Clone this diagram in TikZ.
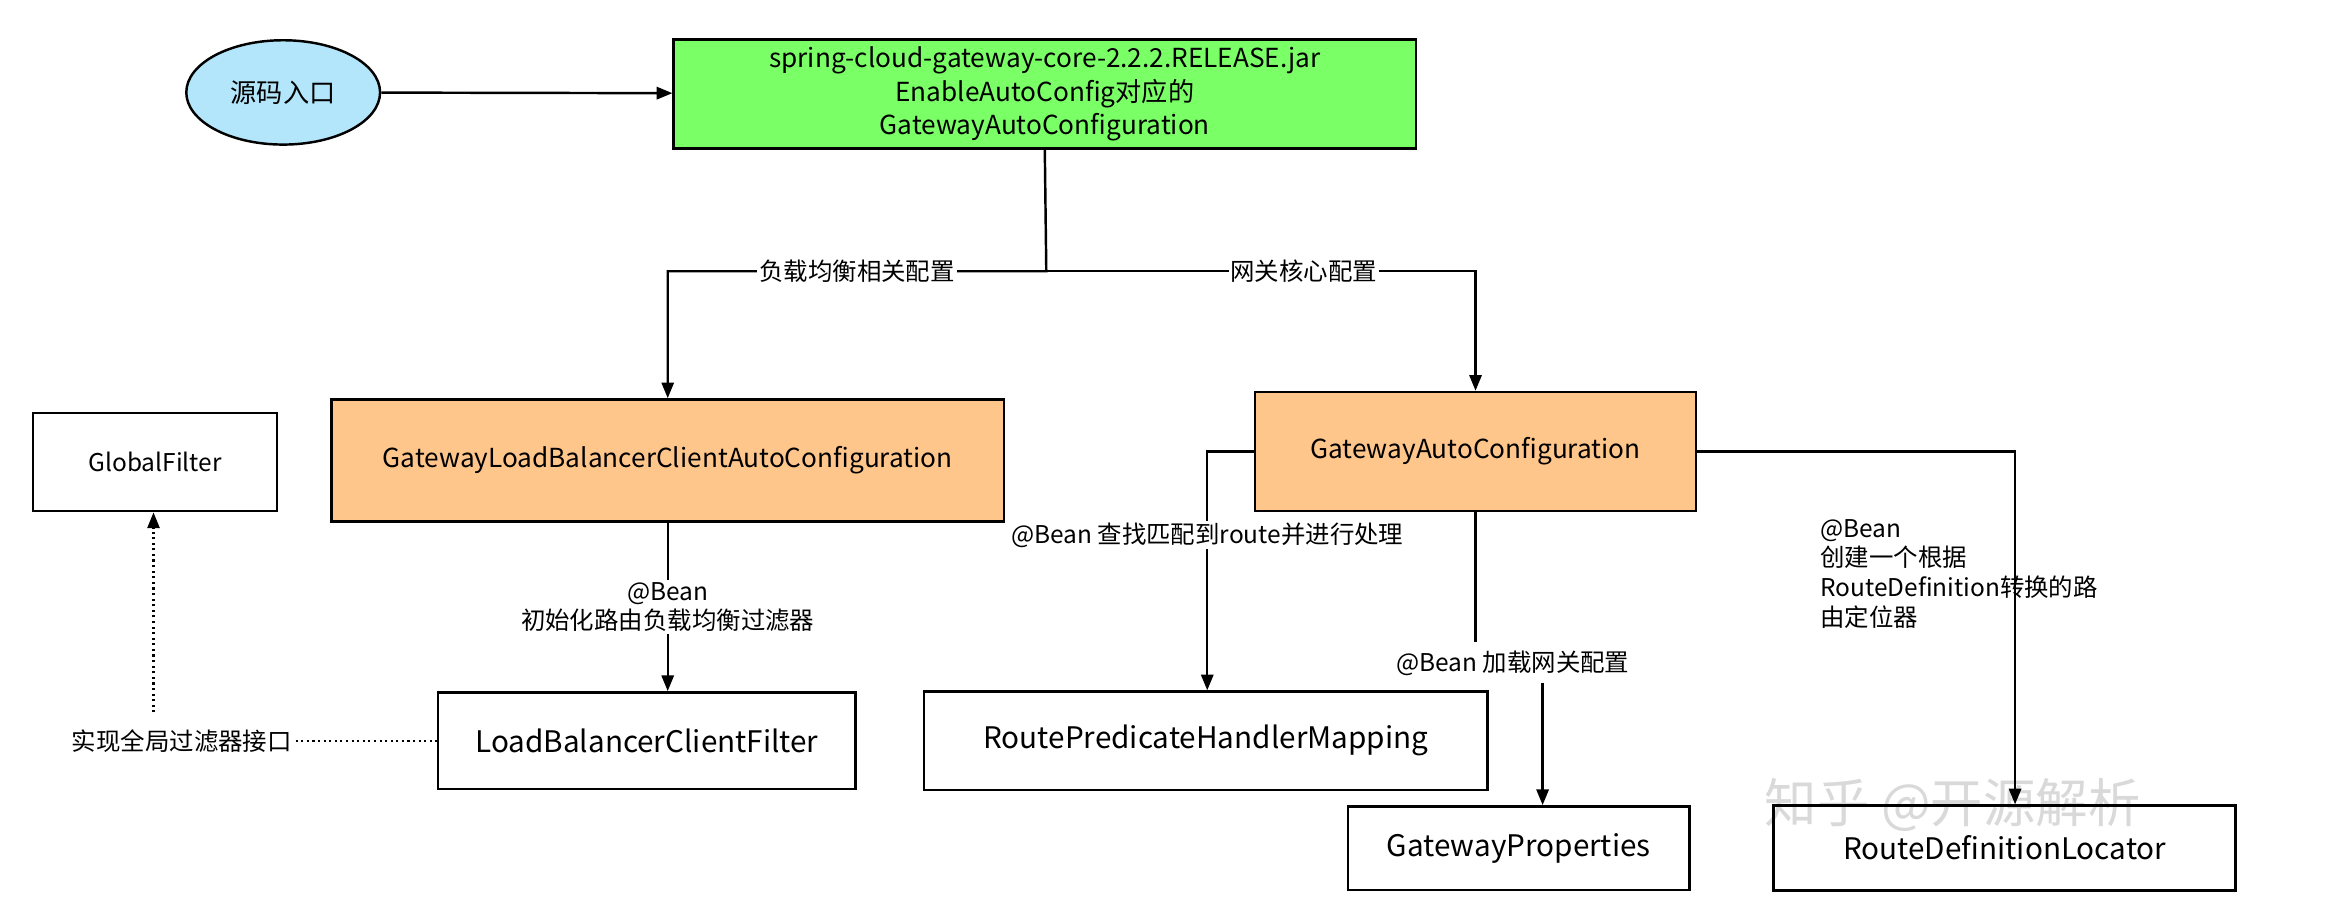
\documentclass[tikz,border=0pt]{standalone}
\usepackage{fontspec}
\setmainfont{Noto Sans CJK SC}
\usetikzlibrary{shapes.geometric,arrows.meta}
\begin{document}
\begin{tikzpicture}[x=0.03cm,y=-0.03cm,
  box/.style={draw=black,line width=1.4pt,inner sep=0pt},
  arr/.style={line width=1.4pt,-{Triangle[length=9pt,width=7pt]}},
  ln/.style={line width=1.4pt},
  lab/.style={fill=white,inner sep=1pt,font=\fontsize{14}{17}\selectfont},
  bt/.style={font=\fontsize{17}{20}\selectfont},
  mt/.style={font=\fontsize{15}{19}\selectfont}]
\useasboundingbox (0,0) rectangle (1568,611);
\fill[white] (0,0) rectangle (1568,611);
\node[text=gray!30,font=\fontsize{30}{34}\selectfont,anchor=west] (wm) at (1180,540) {知乎 @开源解析};
% top
\node[ellipse,draw,line width=1.4pt,fill=cyan!30,inner sep=0pt,minimum width=3.9cm,minimum height=2.1cm] (src) at (190,62) {\fontsize{15}{17}\selectfont 源码入口};
\node[box,fill=green!55!white!90!lime,minimum width=14.94cm,minimum height=2.19cm,align=center,mt] (core) at (701,63) {spring-cloud-gateway-core-2.2.2.RELEASE.jar\\EnableAutoConfig对应的\\GatewayAutoConfiguration};
\draw[arr] (src) -- (core);
% orange
\node[box,fill=orange!45,minimum width=13.53cm,minimum height=2.46cm,mt] (lbc) at (448,309) {GatewayLoadBalancerClientAutoConfiguration};
\node[box,fill=orange!45,minimum width=8.88cm,minimum height=2.4cm,mt] (gac) at (990,303) {GatewayAutoConfiguration};
\coordinate (j) at (702,182);
\draw[arr] (core.south) -- (j) -| (lbc.north) node[pos=0.25,lab]{负载均衡相关配置};
\draw[arr] (j) -| (gac.north) node[pos=0.3,lab]{网关核心配置};
% left column
\node[box,minimum width=4.92cm,minimum height=1.98cm] (gf) at (104,310) {\fontsize{14}{16}\selectfont GlobalFilter};
\node[box,minimum width=8.4cm,minimum height=1.95cm,bt] (lbf) at (434,497) {LoadBalancerClientFilter};
\draw[arr] (lbc.south) -- (lbf.north-|lbc.south) node[midway,lab,align=center]{@Bean\\初始化路由负载均衡过滤器};
\node[lab,inner sep=2pt] (impl) at (122,497) {实现全局过滤器接口};
\draw[line width=1.2pt,dotted] (impl) -- (lbf);
\coordinate (vd) at (103,478);
\draw[line width=1.2pt,dotted,-{Triangle[length=9pt,width=7pt]}] (vd) -- (gf.south-|vd);
% right
\node[box,minimum width=11.34cm,minimum height=1.98cm,bt] (rph) at (809,497) {RoutePredicateHandlerMapping};
\coordinate (g1) at (810,303);
\draw[arr] (gac.west) -- (g1) -- (rph.north-|g1) node[pos=0.35,lab]{@Bean 查找匹配到route并进行处理};
\node[box,minimum width=6.87cm,minimum height=1.68cm,bt] (gp) at (1019,569) {GatewayProperties};
\coordinate (g2) at (990,431);
\node[lab] (gpl) at (1015,445) {@Bean 加载网关配置};
\draw[ln] (gac.south-|g2) -- (g2);
\coordinate (g3) at (1035,458);
\draw[arr] (g3) -- (gp.north-|g3);
\node[box,minimum width=9.3cm,minimum height=1.71cm,bt] (rdl) at (1345,569) {RouteDefinitionLocator};
\coordinate (g4) at (1352,303);
\draw[arr] (gac.east) -- (g4) -- (rdl.north-|g4);
\node[lab,fill=none,align=left,anchor=north west] at (1220,347) {@Bean\\ 创建一个根据\\RouteDefinition转换的路\\由定位器};
\end{tikzpicture}
\end{document}
